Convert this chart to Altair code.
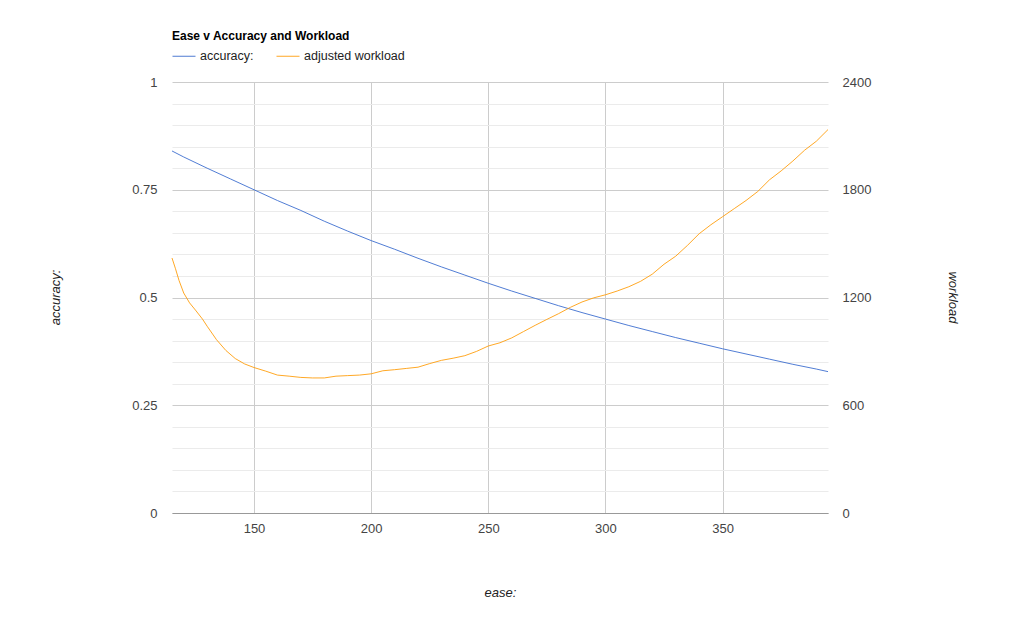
import altair as alt
import pandas as pd

# ---- data ----
acc_ease = [115, 120, 130, 140, 150, 160, 170, 180, 190, 200, 210, 220, 230, 240, 250,
            260, 270, 280, 290, 300, 310, 320, 330, 340, 350, 360, 370, 380, 390, 395]
accuracy = [0.840, 0.826, 0.800, 0.775, 0.750, 0.725, 0.702, 0.677, 0.654, 0.632,
            0.612, 0.591, 0.571, 0.552, 0.533, 0.515, 0.498, 0.481, 0.465, 0.450,
            0.435, 0.421, 0.407, 0.394, 0.381, 0.369, 0.357, 0.345, 0.334, 0.328]

wl_ease = [115, 116.5, 118, 120, 122.5, 125, 128, 130, 134, 138, 142, 146, 150, 155, 160, 165, 170,
           175, 180, 185, 190, 195, 200, 205, 210, 215, 220, 225, 230, 235, 240, 245,
           250, 255, 260, 265, 270, 275, 280, 285, 290, 295, 300, 305, 310, 315, 320,
           325, 330, 335, 340, 345, 350, 355, 360, 365, 370, 375, 380, 385, 390, 395]
workload = [1420, 1360, 1295, 1225, 1170, 1130, 1080, 1040, 965, 905, 860, 830, 810, 790, 768, 762, 755,
            752, 752, 762, 765, 768, 775, 792, 798, 805, 812, 832, 850, 862, 876, 900,
            930, 948, 975, 1010, 1045, 1078, 1110, 1145, 1175, 1198, 1215, 1236, 1260, 1290, 1330,
            1385, 1430, 1490, 1555, 1605, 1650, 1695, 1740, 1790, 1855, 1905, 1960, 2020, 2070, 2135]

series_names = ["accuracy:", "adjusted workload"]
series_colors = ["#3366cc", "#ff9900"]
x_ticks = [150, 200, 250, 300, 350]
left_ticks = [round(i * 0.05, 2) for i in range(21)]
right_ticks = [0, 600, 1200, 1800, 2400]

df_acc = pd.DataFrame({"ease": acc_ease, "value": accuracy, "series": series_names[0]})
df_wl = pd.DataFrame({"ease": wl_ease, "value": workload, "series": series_names[1]})

FONT = "Liberation Sans"

x_enc = alt.X(
    "ease:Q",
    scale=alt.Scale(domain=[115, 395], nice=False, zero=False),
    axis=alt.Axis(
        values=x_ticks, title="ease:", grid=True, gridColor="#cccccc", ticks=False, tickSize=0,
        domain=True, domainColor="#999999", labelPadding=9, labelFontSize=13,
        labelColor="#444444", titleFontSize=13, titleFontStyle="italic",
        titleFontWeight="normal", titleColor="#222222", titleX=328, titleY=79,
        titleBaseline="middle",
    ),
)

color_enc = alt.Color(
    "series:N",
    scale=alt.Scale(domain=series_names, range=series_colors),
    legend=alt.Legend(
        orient="none", legendX=0, legendY=-38, direction="horizontal", title=None,
        symbolType="stroke", symbolSize=529, symbolStrokeWidth=1, labelFontSize=12.5,
        labelColor="#222222", labelOffset=4, columnPadding=20, padding=0,
        labelFont=FONT,
    ),
)

acc_line = alt.Chart(df_acc).mark_line(strokeWidth=1, opacity=0.85).encode(
    x=x_enc,
    y=alt.Y(
        "value:Q",
        scale=alt.Scale(domain=[0, 1], nice=False),
        axis=alt.Axis(
            orient="left", values=left_ticks, title="accuracy:", grid=True,
            gridColor={"condition": {"test": "abs(datum.value*4 - round(datum.value*4)) < 0.001",
                                     "value": "#cccccc"}, "value": "#ebebeb"},
            labelExpr="abs(datum.value*4 - round(datum.value*4)) < 0.001 ? '' + round(datum.value*100)/100 : ''",
            ticks=False, tickSize=0, domain=False, labelPadding=15, labelFontSize=13,
            labelColor="#444444", labelOverlap=False, titleFontSize=13,
            titleFontStyle="italic", titleFontWeight="normal", titleColor="#222222",
            titleAngle=-90, titleX=-117, titleY=215, titleBaseline="middle",
        ),
    ),
    color=color_enc,
)

wl_line = alt.Chart(df_wl).mark_line(strokeWidth=1, opacity=0.85).encode(
    x=x_enc,
    y=alt.Y(
        "value:Q",
        scale=alt.Scale(domain=[0, 2400], nice=False),
        axis=alt.Axis(
            orient="right", values=right_ticks, format="d", title="workload", grid=False,
            ticks=False, tickSize=0, domain=False, labelPadding=14, labelFontSize=13,
            labelColor="#444444", labelOverlap=False, titleFontSize=13,
            titleFontStyle="italic", titleFontWeight="normal", titleColor="#222222",
            titleAngle=90, titleX=124, titleY=215, titleBaseline="middle",
        ),
    ),
    color=color_enc,
)

chart = alt.layer(acc_line, wl_line).resolve_scale(y="independent").properties(
    width=656,
    height=431,
    autosize="none",
    padding={"left": 172, "top": 82, "right": 196, "bottom": 110},
    title=alt.TitleParams(
        text="Ease v Accuracy and Workload", anchor="start", frame="group",
        fontSize=12, fontWeight="bold", color="#000000", font=FONT, offset=1,
    ),
).configure(font=FONT).configure_view(stroke=None)

chart.save("out.html", embed_options={"renderer": "svg", "actions": False})
